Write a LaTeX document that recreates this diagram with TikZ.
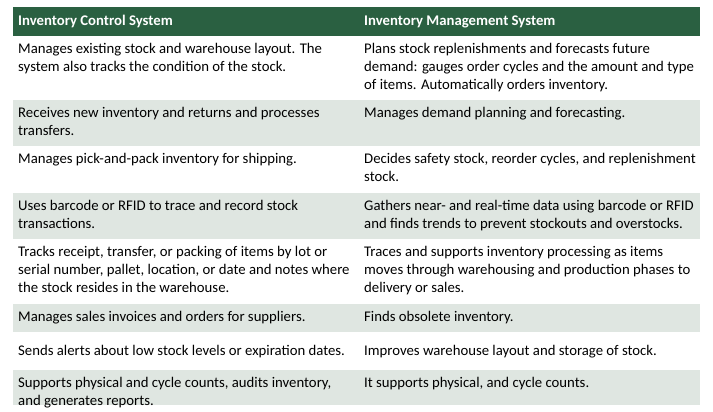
\documentclass[tikz,border=0pt]{standalone}
\usepackage{fontspec}
\setmainfont{Carlito}
\begin{document}
\begin{tikzpicture}[x=1pt,y=-1pt,
  cell/.style={anchor=north west,inner sep=0pt,yshift=10.6pt,align=left,font=\fontsize{14.75}{18}\selectfont},
  head/.style={cell,font=\fontsize{14.75}{18}\selectfont\bfseries,text=white}]
\definecolor{hdr}{HTML}{2A6041}
\definecolor{band}{HTML}{DFE6E1}
\useasboundingbox (0,0) rectangle (713,412);
\fill[hdr] (13,7) rectangle (700,36);
\foreach \a/\b in {100/146,193/239,304/332,370/405} \fill[band] (13,\a) rectangle (700,\b);
\node[head] (h1) at (18,26) {Inventory Control System};
\node[head] (h2) at (364,26) {Inventory Management System};
\node[cell] (l1) at (18,54) {Manages existing stock and warehouse layout. The\\system also tracks the condition of the stock.};
\node[cell] (r1) at (364,54) {Plans stock replenishments and forecasts future\\demand: gauges order cycles and the amount and type\\of items. Automatically orders inventory.};
\node[cell] (l2) at (18,118) {Receives new inventory and returns and processes\\transfers.};
\node[cell] (r2) at (364,118) {Manages demand planning and forecasting.};
\node[cell] (l3) at (18,164) {Manages pick-and-pack inventory for shipping.};
\node[cell] (r3) at (364,164) {Decides safety stock, reorder cycles, and replenishment\\stock.};
\node[cell] (l4) at (18,211) {Uses barcode or RFID to trace and record stock\\transactions.};
\node[cell] (r4) at (364,211) {Gathers near- and real-time data using barcode or RFID\\and finds trends to prevent stockouts and overstocks.};
\node[cell] (l5) at (18,257) {Tracks receipt, transfer, or packing of items by lot or\\serial number, pallet, location, or date and notes where\\the stock resides in the warehouse.};
\node[cell] (r5) at (364,257) {Traces and supports inventory processing as items\\moves through warehousing and production phases to\\delivery or sales.};
\node[cell] (l6) at (18,322) {Manages sales invoices and orders for suppliers.};
\node[cell] (r6) at (364,322) {Finds obsolete inventory.};
\node[cell] (l7) at (18,356) {Sends alerts about low stock levels or expiration dates.};
\node[cell] (r7) at (364,356) {Improves warehouse layout and storage of stock.};
\node[cell] (l8) at (18,388) {Supports physical and cycle counts, audits inventory,\\and generates reports.};
\node[cell] (r8) at (364,388) {It supports physical, and cycle counts.};
\end{tikzpicture}
\end{document}
